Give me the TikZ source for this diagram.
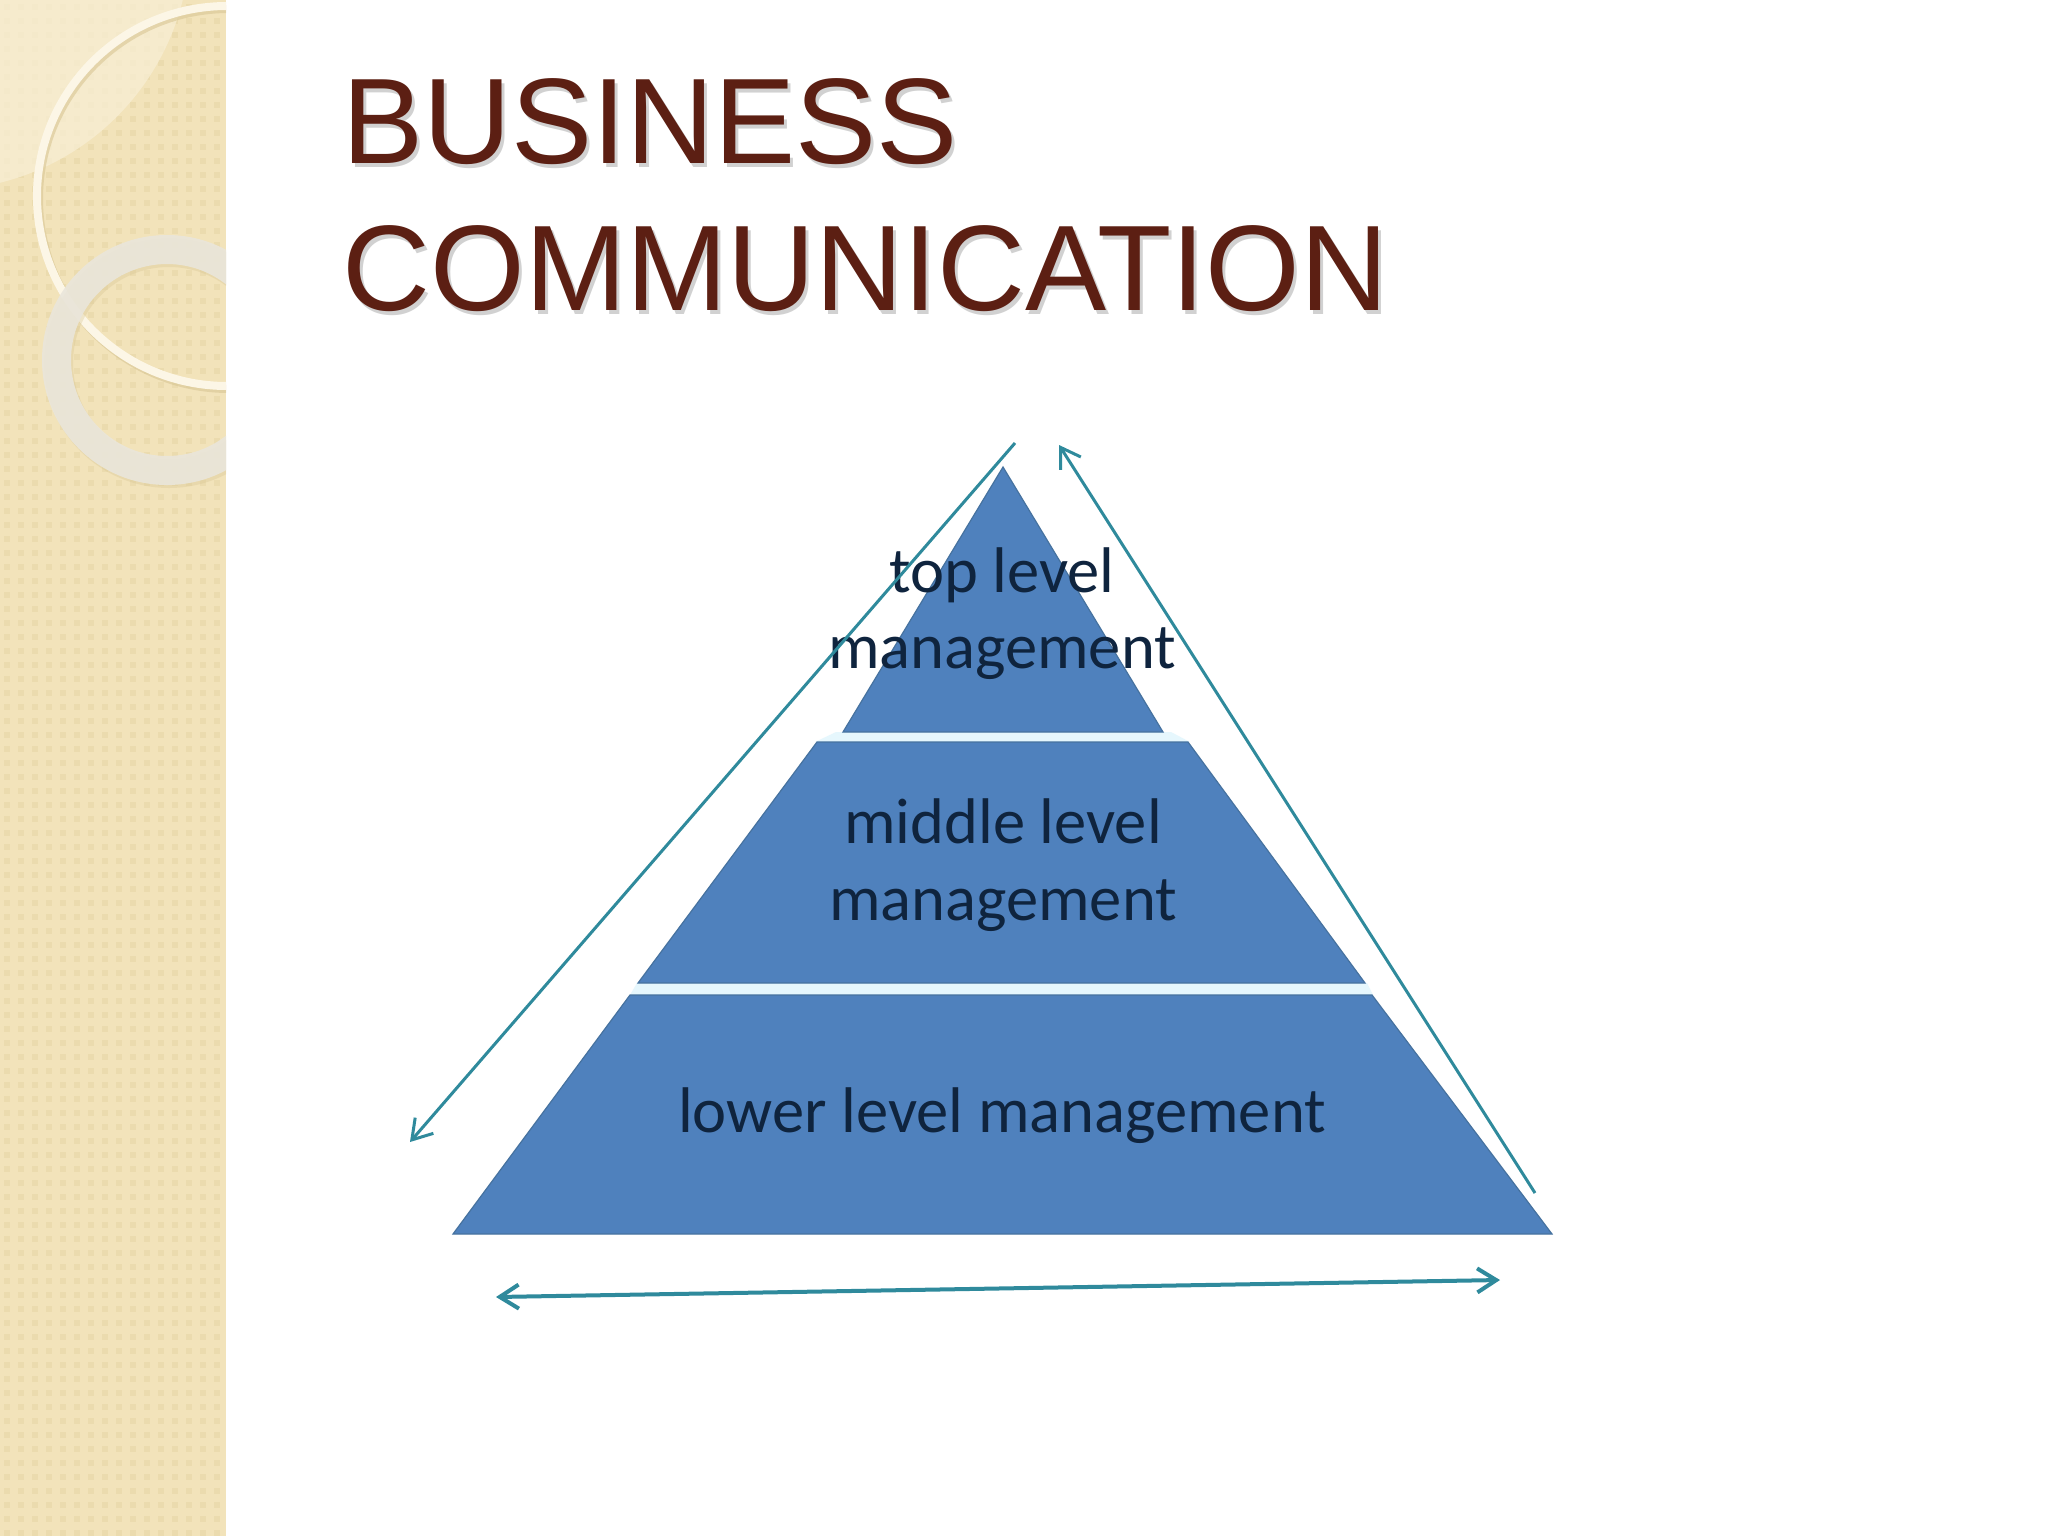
\documentclass[tikz,border=0pt]{standalone}
\usepackage{fontspec}
\setmainfont{Liberation Sans}
\newfontfamily\calib{Carlito}
\usetikzlibrary{arrows.meta}
\definecolor{panelbg}{HTML}{F2E3BA}
\definecolor{panelpat}{HTML}{EBDBAE}
\definecolor{lenscol}{HTML}{F7EDD2}
\definecolor{ringa}{HTML}{FCF6E6}
\definecolor{ringash}{HTML}{D8C694}
\definecolor{ringb}{HTML}{EAE6DB}
\definecolor{titlecol}{HTML}{5C1F13}
\definecolor{pyrblue}{HTML}{4F81BD}
\definecolor{pyredge}{HTML}{46729F}
\definecolor{gapcol}{HTML}{E6F7FD}
\definecolor{txtnavy}{HTML}{0F243E}
\definecolor{arrteal}{HTML}{2F8A9C}
\tikzset{
  titletxt/.style={font=\fontsize{34.6}{40}\selectfont, text=titlecol, inner sep=0pt, anchor=base west},
  titleshadow/.style={font=\fontsize{34.6}{40}\selectfont, text=black, opacity=0.18, inner sep=0pt, anchor=base west},
  lbl/.style={font=\calib\fontsize{18.35}{22}\selectfont, text=txtnavy, inner sep=0pt, anchor=base},
  tier/.style={fill=pyrblue, draw=pyredge, line width=0.012cm},
  arr/.style={draw=arrteal, line width=0.03cm, -{Straight Barb[length=0.19cm,width=0.24cm]}},
  darr/.style={draw=arrteal, line width=0.04cm, {Straight Barb[length=0.19cm,width=0.24cm]}-{Straight Barb[length=0.19cm,width=0.24cm]}}
}
\begin{document}
\begin{tikzpicture}[x=0.01cm,y=-0.01cm]
\useasboundingbox (0,0) rectangle (2048,1536);
\fill[white] (0,0) rectangle (2048,1536);
% left decorative panel
\fill[panelbg] (0,0) rectangle (226,1536);
\begin{scope}
  \clip (0,0) rectangle (226,1536);
  \foreach \i in {0,...,16}{
    \foreach \j in {0,...,110}{
      \fill[panelpat] (\i*14+4,\j*14+4) rectangle +(6,6);
    }
  }
  \fill[lenscol, opacity=0.8] (-60,-60) circle (250);
  \draw[ringash, line width=0.08cm, opacity=0.6] (229,199) circle (190);
  \draw[ringa, line width=0.08cm] (227,196) circle (190);
  \draw[ringash, line width=0.29cm, opacity=0.35] (169,363) circle (110.5);
  \draw[ringb, line width=0.29cm, opacity=0.9] (167,360) circle (110.5);
\end{scope}
% title
\node[titleshadow] (title1s) at (345,167) {BUSINESS};
\node[titleshadow] (title2s) at (345,314) {COMMUNICATION};
\node[titletxt] (title1) at (342,163) {BUSINESS};
\node[titletxt] (title2) at (342,310) {COMMUNICATION};
% pyramid gaps
\fill[gapcol] (836,732) -- (1171,732) -- (1190,742) -- (815,742) -- cycle;
\fill[gapcol] (637,983) -- (1367,983) -- (1373,995) -- (630,995) -- cycle;
% pyramid tiers
\path[tier] (1003,467) -- (1163,732) -- (843,732) -- cycle;
\path[tier] (817,742) -- (1188,742) -- (1365,983) -- (638,983) -- cycle;
\path[tier] (630,995) -- (1372,995) -- (1552,1234) -- (453,1234) -- cycle;
% labels
\node[lbl] (top1) at (1002,592) {top level};
\node[lbl] (top2) at (1002,668) {management};
\node[lbl] (mid1) at (1003,843) {middle level};
\node[lbl] (mid2) at (1003,920) {management};
\node[lbl] (low1) at (1002,1132) {lower level management};
% arrows
\coordinate (la) at (1015,443);
\coordinate (lb) at (410,1142);
\coordinate (ra) at (1535,1193);
\coordinate (rb) at (1059,445);
\coordinate (ba) at (496,1297);
\coordinate (bb) at (1500,1280);
\draw[arr] (la) -- (lb);
\draw[arr] (ra) -- (rb);
\draw[darr] (ba) -- (bb);
\end{tikzpicture}
\end{document}
